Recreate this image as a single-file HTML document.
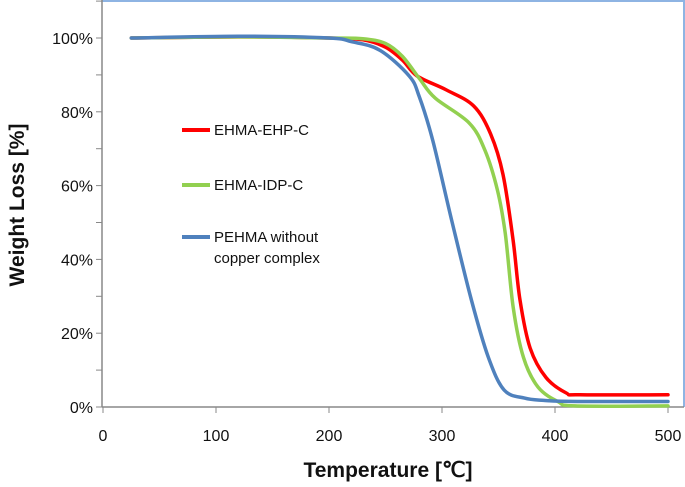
<!DOCTYPE html>
<html><head><meta charset="utf-8"><style>
body{margin:0;background:#fff;}
svg{display:block;font-family:"Liberation Sans",sans-serif;}
</style></head><body>
<svg id="chart" width="685" height="487">
<line x1="102" y1="1" x2="684" y2="1" stroke="#8eb4e3" stroke-width="2"/>
<line x1="684" y1="0" x2="684" y2="407" stroke="#8eb4e3" stroke-width="2"/>
<g id="axes"></g>
<g id="series"></g>
<g id="legend" font-size="15" fill="#111">
<line x1="182" y1="130" x2="210" y2="130" stroke="#ff0000" stroke-width="4"/>
<text x="214" y="135">EHMA-EHP-C</text>
<line x1="182" y1="185" x2="210" y2="185" stroke="#92d050" stroke-width="4"/>
<text x="214" y="190">EHMA-IDP-C</text>
<line x1="182" y1="237" x2="210" y2="237" stroke="#4f81bd" stroke-width="4"/>
<text x="214" y="242">PEHMA without</text>
<text x="214" y="263">copper complex</text>
</g>
<text x="388" y="477" text-anchor="middle" font-size="21" font-weight="bold" fill="#111">Temperature [℃]</text>
<text transform="translate(24,205) rotate(-90)" text-anchor="middle" font-size="21" font-weight="bold" fill="#111">Weight Loss [%]</text>
</svg>
<script>
const xTicks=[0,100,200,300,400,500];
const yTicks=[0,20,40,60,80,100];
const redT=[25,120,200,230,250,265,278,304,328,343,354,363,369,378,392,410,422,500];
const redW=[100,100.3,100,99.5,97.5,94,89.7,85.9,81.6,74,63,45,29,16,8,3.8,3.3,3.3];
const greenT=[25,120,200,230,250,265,280,294,324,338,349,356,363,372,385,403,418,500];
const greenW=[100,100.3,100,99.8,98.5,95,89,83.7,77,69.6,58.8,47,27,13.5,5.4,1.4,0.3,0.3];
const blueT=[25,120,200,220,245,271,280,292,309,326,341,355,373,390,420,500];
const blueW=[100,100.5,100,99,96.7,89.7,84,72,50,29,13.5,4.6,2.4,1.8,1.5,1.5];
const X=t=>103+1.13*t, Y=p=>407-3.69*p;
const NS="http://www.w3.org/2000/svg";
const ax=document.getElementById('axes');
function mk(tag,attrs,parent){const e=document.createElementNS(NS,tag);for(const k in attrs)e.setAttribute(k,attrs[k]);parent.appendChild(e);return e;}
let e=mk('line',{x1:102,y1:0,x2:102,y2:407,stroke:'#888','stroke-width':1.5},ax);


e=mk('line',{x1:102,y1:407,x2:684,y2:407,stroke:'#888','stroke-width':1.5},ax);


for(let p=0;p<=110;p+=10){e=mk('line',{x1:96,y1:Y(p),x2:102,y2:Y(p),stroke:'#888'},ax);

}
yTicks.forEach(p=>{e=mk('text',{x:93,y:Y(p)+6,'text-anchor':'end','font-size':16,fill:'#111'},ax);e.textContent=p+'%';

});
xTicks.forEach(t=>{e=mk('line',{x1:X(t),y1:407,x2:X(t),y2:413,stroke:'#888'},ax);


e=mk('text',{x:X(t),y:441,'text-anchor':'middle','font-size':16,fill:'#111'},ax);e.textContent=t;

});
const sg=document.getElementById('series');
function line(T,W,c,name){
const P=T.map((t,i)=>[X(t),Y(W[i])]);
let d='M'+P[0][0].toFixed(1)+','+P[0][1].toFixed(1);
for(let i=0;i<P.length-1;i++){const p0=P[Math.max(0,i-1)],p1=P[i],p2=P[i+1],p3=P[Math.min(P.length-1,i+2)];
const c1=[p1[0]+(p2[0]-p0[0])/6,p1[1]+(p2[1]-p0[1])/6],c2=[p2[0]-(p3[0]-p1[0])/6,p2[1]-(p3[1]-p1[1])/6];
d+='C'+c1.map(v=>v.toFixed(1))+' '+c2.map(v=>v.toFixed(1))+' '+p2.map(v=>v.toFixed(1));}
const p=mk('path',{d:d,fill:'none',stroke:c,'stroke-width':3.5,'stroke-linejoin':'round','stroke-linecap':'round'},sg);

}
line(redT,redW,'#ff0000','series-ehma-ehp-c');
line(greenT,greenW,'#92d050','series-ehma-idp-c');
line(blueT,blueW,'#4f81bd','series-pehma');
</script>
</body></html>
